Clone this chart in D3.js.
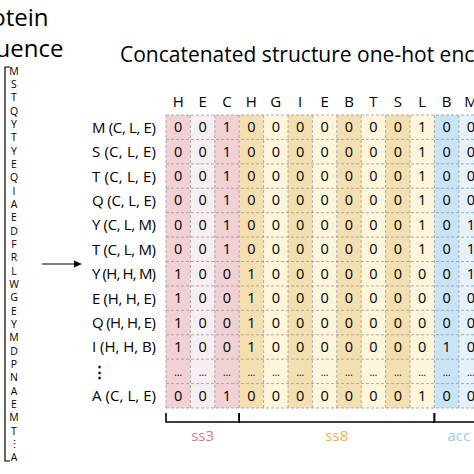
<!DOCTYPE html><html><head><meta charset="utf-8"><script src="https://cdn.jsdelivr.net/npm/d3@7"></script>
<style>body{margin:0;background:#fff}text{font-family:"Open Sans",Lato,sans-serif}</style></head><body>
<svg id="c" width="474" height="474"></svg>
<script>
const columns=["H","E","C","H","G","I","E","B","T","S","L","B","M"];
const groups=[{name:"ss3",from:0,to:3,color:"#d87c82"},{name:"ss8",from:3,to:11,color:"#e8b64a"},{name:"acc",from:11,to:13,color:"#9ec8e6"}];
const colFill=["#f1d1d3","#f6eef2","#f1d1d3","#f4dfb1","#fdf6db","#f4dfb1","#fdf6db","#f4dfb1","#fdf6db","#f4dfb1","#fdf6db","#c8e4f6","#e6f2fb"];
const rowLabels=["M (C, L, E)","S (C, L, E)","T (C, L, E)","Q (C, L, E)","Y (C, L, M)","T (C, L, M)","Y (H, H, M)","E (H, H, E)","Q (H, H, E)","I (H, H, B)","⋮","A (C, L, E)"];
const values=[
"0010000000100","0010000000100","0010000000100","0010000000100",
"0010000000101","0010000000101","1001000000001","1001000000000",
"1001000000000","1001000000010","…","0010000000100"];
const sequence=["M","S","T","Q","Y","T","Y","E","Q","I","A","E","D","F","R","L","W","G","E","Y","M","D","P","N","A","E","M","T","⋮","A"];
const svg=d3.select("#c");
const x=d3.scaleBand().domain(d3.range(columns.length)).range([166,166+24.4*columns.length]);
const y=d3.scaleBand().domain(d3.range(rowLabels.length)).range([115,408]);
svg.append("text").attr("x",-33).attr("y",26).attr("font-size",24).text("Protein");
svg.append("text").attr("x",-44).attr("y",57).attr("font-size",24).text("sequence");
svg.append("text").attr("x",120).attr("y",62).attr("font-size",21).text("Concatenated structure one-hot encoding");
const sy=d3.scaleBand().domain(d3.range(sequence.length)).range([64,464]);
svg.append("g").selectAll("text").data(sequence).join("text").attr("x",14).attr("y",(d,i)=>sy(i)+sy.bandwidth()/2+4)
 .attr("text-anchor","middle").attr("font-size",10.5).text(d=>d);
svg.append("path").attr("d","M10,67 H5 V461 H10").attr("fill","none").attr("stroke","#000").attr("stroke-width",1.2);
svg.append("line").attr("x1",42).attr("x2",76).attr("y1",264).attr("y2",264).attr("stroke","#000").attr("stroke-width",1.2);
svg.append("path").attr("d","M82,264 L74,260.5 L74,267.5Z").attr("fill","#000");
svg.append("g").selectAll("rect").data(columns).join("rect").attr("x",(d,i)=>x(i)).attr("y",115).attr("width",x.bandwidth()).attr("height",293).attr("fill",(d,i)=>colFill[i]);
const g=svg.append("g").attr("stroke","#999").attr("stroke-dasharray","3,2").attr("stroke-width",0.8);
d3.range(columns.length+1).forEach(i=>g.append("line").attr("x1",166+24.4*i).attr("x2",166+24.4*i).attr("y1",115).attr("y2",408));
d3.range(rowLabels.length+1).forEach(i=>g.append("line").attr("x1",166).attr("x2",480).attr("y1",115+y.step()*i).attr("y2",115+y.step()*i));
svg.append("g").selectAll("text").data(columns).join("text").attr("x",(d,i)=>x(i)+x.bandwidth()/2).attr("y",107).attr("text-anchor","middle").attr("font-size",15).text(d=>d);
svg.append("g").selectAll("text").data(rowLabels).join("text").attr("x",92).attr("y",(d,i)=>y(i)+y.bandwidth()/2+5.5)
 .attr("font-size",15).attr("textLength",d=>d==="⋮"?null:64).attr("font-weight",d=>d==="⋮"?"bold":null).text(d=>d);
values.forEach((row,r)=>{const cells=row.length===columns.length?row.split(""):Array(columns.length).fill("…");
 svg.append("g").selectAll("text").data(cells).join("text").attr("x",(d,i)=>x(i)+x.bandwidth()/2).attr("y",y(r)+y.bandwidth()/2+5)
 .attr("text-anchor","middle").attr("font-size",d=>d==="…"?10:14.5).text(d=>d);});
groups.forEach(gr=>{const x0=x(gr.from),x1=gr.to<columns.length?x(gr.to):x(gr.to-1)+x.bandwidth();
 svg.append("path").attr("d",`M${x0},413 V422 H${x1} V413`).attr("fill","none").attr("stroke","#000").attr("stroke-width",1.6);
 svg.append("text").attr("x",(x0+x1)/2).attr("y",441).attr("text-anchor","middle").attr("font-size",15).attr("fill",gr.color).text(gr.name);});
</script></body></html>
